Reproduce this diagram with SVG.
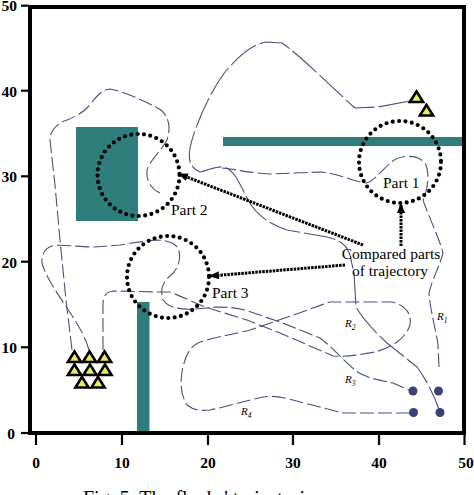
<svg xmlns="http://www.w3.org/2000/svg" width="474" height="495" viewBox="0 0 474 495">
<defs>
<style>
.frame{stroke:#000;stroke-width:4;fill:none}
.tick{stroke:#000;stroke-width:2.2}
.ax{font-weight:bold;font-size:15.5px;fill:#000}
.obs{fill:#2e7f7c}
.traj{fill:none;stroke:#4a5082;stroke-width:1.1;stroke-dasharray:14 4;stroke-linejoin:round}
.long{stroke-dasharray:32 4}
.ring{fill:none;stroke:#000;stroke-width:4.2;stroke-linecap:round;stroke-dasharray:0 6.4}
.arrow{fill:none;stroke:#000;stroke-width:3;stroke-dasharray:2.5 1}
.lbl{font-size:15.5px;fill:#000}
.rl{font-style:italic;font-size:11px;fill:#000}
.tri{fill:#ecec5a;stroke:#000;stroke-width:2.6;stroke-linejoin:miter}
.goal{fill:#3c4272}
</style>
<path id="tri" d="M0,-5.6 L6.6,5 L-6.6,5 Z"/>
<marker id="ah" viewBox="0 0 10 8" refX="9" refY="4" markerWidth="10" markerHeight="8" markerUnits="userSpaceOnUse" orient="auto">
<path d="M0,0 L10,4 L0,8 Z" fill="#000"/>
</marker>
</defs>
<rect width="474" height="495" fill="#fff"/>

<g id="axes" font-family="Liberation Serif, serif">
<rect class="frame" x="30" y="7" width="434" height="426"/>
<g class="tick">
<line x1="21" y1="5.7" x2="29" y2="5.7"/>
<line x1="21" y1="90.7" x2="29" y2="90.7"/>
<line x1="21" y1="176.3" x2="29" y2="176.3"/>
<line x1="21" y1="261.7" x2="29" y2="261.7"/>
<line x1="21" y1="347.3" x2="29" y2="347.3"/>
<line x1="21" y1="433" x2="29" y2="433"/>
<line x1="36" y1="434" x2="36" y2="445"/>
<line x1="122" y1="434" x2="122" y2="445"/>
<line x1="208" y1="434" x2="208" y2="445"/>
<line x1="293" y1="434" x2="293" y2="445"/>
<line x1="379" y1="434" x2="379" y2="445"/>
<line x1="464.5" y1="434" x2="464.5" y2="445"/>
</g>
<g class="ax" text-anchor="end">
<text x="17" y="11">50</text>
<text x="17" y="96.5">40</text>
<text x="17" y="182">30</text>
<text x="17" y="267.5">20</text>
<text x="17" y="353">10</text>
<text x="15" y="438.5">0</text>
</g>
<g class="ax" text-anchor="middle">
<text x="36" y="468">0</text>
<text x="122" y="468">10</text>
<text x="208" y="468">20</text>
<text x="293" y="468">30</text>
<text x="379" y="468">40</text>
<text x="466" y="468">50</text>
</g>
</g>

<g id="obstacles">
<rect class="obs" x="76" y="127" width="62" height="94"/>
<rect class="obs" x="223" y="137" width="239" height="9"/>
<rect class="obs" x="137" y="302" width="12.5" height="129"/>
</g>

<g id="trajectories">
<path class="traj long" d="M410,101 L378,107 L355,108 C340,95 300,55 282,43 L266,42 C250,45 238,57 225,72 C210,92 195,125 190,148 C188,160 190,168 200,172 C210,170 215,166 224,167 C235,170 240,185 248,200 C255,213 268,224 287,230 L327,237 C340,240 347,245 350,255 L354,273 L356,307 C362,318 375,332 387,343 L417,367 C425,378 433,392 440,412"/>
<path class="traj" d="M72,350 L66,300 L60,240 L55,185 L50,140 C50,132 55,126 62,122 C72,118 80,115 88,107 C95,99 100,90 110,89 C120,90 150,103 161,110 C169,117 171,128 167,140 C162,150 150,160 147,170 C146,180 150,188 160,193"/>
<path class="traj" d="M222,168 C240,170 250,173 270,174 L294,173 L321,172 C340,174 355,182 366,183 C375,182 385,165 396,159 C405,155 418,155 425,163 C430,172 428,190 423,200 C428,215 440,240 443,253 C440,265 432,280 429,293 C430,310 436,330 438,345 L439,367"/>
<path class="traj" d="M89,350 C85,335 75,320 65,305 C55,290 45,275 42,263 C41,255 45,248 52,246 C60,244 80,247 95,247 L120,245 L145,241 C160,239 172,240 178,248 C182,258 178,270 170,276 C162,282 160,292 163,300 C168,307 178,310 195,309 L217,307 C228,307 237,308 245,310 L280,322 L320,338 C330,345 345,362 355,370 C362,376 372,379 393,383 L409,390"/>
<path class="traj" d="M103,350 L103,305 C103,296 106,292 113,291 L160,292 L170,292 C185,298 195,303 205,307 L247,320 L280,333 L333,356 C345,357 360,355 375,352 C390,348 405,340 410,325 C412,313 405,305 392,302 L330,302 C315,307 300,313 285,318 L250,330 C230,335 210,338 198,343 C188,348 184,360 182,372 C180,385 181,395 187,405 C193,410 200,411 210,410 C225,407 245,401 263,397 C275,395 285,398 300,402 L343,413 L410,413"/>
</g>

<g id="starts">
<use href="#tri" class="tri" x="416.5" y="97"/>
<use href="#tri" class="tri" x="426.5" y="110.5"/>
<use href="#tri" class="tri" x="74.5" y="357"/>
<use href="#tri" class="tri" x="89.5" y="357"/>
<use href="#tri" class="tri" x="104.5" y="357"/>
<use href="#tri" class="tri" x="74.5" y="370"/>
<use href="#tri" class="tri" x="90" y="370"/>
<use href="#tri" class="tri" x="105" y="370"/>
<use href="#tri" class="tri" x="82" y="382.5"/>
<use href="#tri" class="tri" x="98" y="382.5"/>
</g>

<g id="goals">
<circle class="goal" cx="413" cy="391" r="4.5"/>
<circle class="goal" cx="438.5" cy="391" r="4.5"/>
<circle class="goal" cx="413.5" cy="412.5" r="4.5"/>
<circle class="goal" cx="440" cy="412.5" r="4.5"/>
</g>

<g id="labels-r" class="rl" font-family="Liberation Serif, serif">
<text x="437" y="320">R<tspan font-size="7.5" dy="2.5">1</tspan></text>
<text x="345" y="327">R<tspan font-size="7.5" dy="2.5">2</tspan></text>
<text x="345" y="383">R<tspan font-size="7.5" dy="2.5">3</tspan></text>
<text x="241" y="415">R<tspan font-size="7.5" dy="2.5">4</tspan></text>
</g>

<g id="part1" font-family="Liberation Serif, serif">
<circle class="ring" cx="400" cy="162" r="41"/>
<text class="lbl" x="383" y="188">Part 1</text>
</g>
<g id="part2" font-family="Liberation Serif, serif">
<circle class="ring" cx="138.5" cy="175" r="41"/>
<text class="lbl" x="171" y="215">Part 2</text>
</g>
<g id="part3" font-family="Liberation Serif, serif">
<circle class="ring" cx="168" cy="277" r="41"/>
<text class="lbl" x="212" y="298">Part 3</text>
</g>

<g id="compared" font-family="Liberation Serif, serif">
<text class="lbl" x="391" y="259" text-anchor="middle" font-size="16">Compared parts</text>
<text class="lbl" x="390" y="276" text-anchor="middle" font-size="16">of trajectory</text>
</g>

<g id="connectors">
<line class="arrow" x1="401" y1="246" x2="401" y2="204" marker-end="url(#ah)"/>
<line class="arrow" x1="363" y1="245" x2="179" y2="174" marker-end="url(#ah)"/>
<line class="arrow" x1="345" y1="265" x2="210" y2="276" marker-end="url(#ah)"/>
</g>

<text x="83" y="505" font-family="Liberation Serif, serif" font-size="20" fill="#000">Fig. 5. The flocks' trajectories</text>
</svg>
